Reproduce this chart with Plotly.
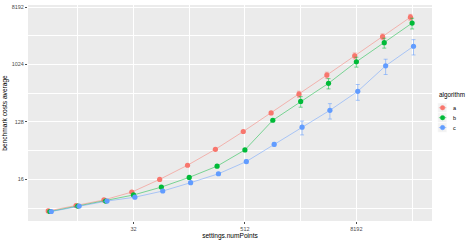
import plotly.graph_objects as go
import numpy as np

# ---- data ----
num_points = [4, 8, 16, 32, 64, 128, 256, 512, 1024, 2048, 4096, 8192, 16384, 32768]
algorithms = ["a", "b", "c"]
avg_a = [5.1, 6.2, 7.6, 10.1, 16.0, 26.7, 47.5, 90.5, 177, 350, 698, 1400, 2800, 5670]
avg_b = [5.0, 6.1, 7.3, 9.1, 12.1, 17.2, 25.8, 46.5, 136, 269, 518, 1130, 2250, 4580]
avg_c = [5.0, 6.1, 7.3, 8.4, 10.5, 14.2, 19.6, 30.5, 56.9, 106, 195, 388, 975, 1980]
sd_a = [0.1, 0.1, 0.2, 0.2, 0.3, 0.5, 1.0, 2.0, 5, 38, 75, 150, 290, 600]
sd_b = [0.1, 0.1, 0.2, 0.2, 0.3, 0.5, 1.0, 2.0, 6, 51, 95, 200, 400, 880]
sd_c = [0.1, 0.1, 0.2, 0.2, 0.3, 0.5, 1.0, 2.0, 4, 26, 53, 108, 263, 535]
x_ticks = [32, 512, 8192]
y_ticks = [16, 128, 1024, 8192]

colors = ["#F8766D", "#00BA38", "#619CFF"]
line_colors = ["rgba(248,118,109,0.55)", "rgba(0,186,56,0.55)", "rgba(97,156,255,0.55)"]
err_colors = ["rgba(248,118,109,0.6)", "rgba(0,186,56,0.6)", "rgba(97,156,255,0.6)"]
dodge = [-0.06, 0.0, 0.05]  # log2 offsets (position dodge)

fig = go.Figure()
for name, avg, sd, col, lcol, ecol, dd in zip(algorithms, [avg_a, avg_b, avg_c], [sd_a, sd_b, sd_c],
                                               colors, line_colors, err_colors, dodge):
    xs = [x * 2 ** dd for x in num_points]
    fig.add_trace(go.Scatter(
        x=xs, y=avg, mode="lines", line=dict(color=lcol, width=0.9),
        showlegend=False, hoverinfo="skip"))
    fig.add_trace(go.Scatter(
        x=xs, y=avg, mode="markers", name=name,
        marker=dict(color=col, size=5.2),
        error_y=dict(type="data", array=sd, visible=True, color=ecol, thickness=0.9, width=2),
        showlegend=False))

# manual ggplot-like legend
leg_x0 = 1.012
leg_title_y = 0.585
fig.add_annotation(xref="paper", yref="paper", x=leg_x0, y=leg_title_y, text="algorithm",
                   showarrow=False, xanchor="left", yanchor="middle",
                   font=dict(size=6.3, color="black", family="Liberation Sans, Arial, sans-serif"))
for i, (name, col, lcol) in enumerate(zip(algorithms, colors, line_colors)):
    yc = 222 - (107.7 + 10 * i)  # pixel from panel bottom
    yp = yc / 218
    x_px = 26 + 406 * leg_x0
    fig.add_shape(type="rect", xref="paper", yref="paper",
                  x0=(x_px - 26 + 1) / 406, x1=(x_px - 26 + 10) / 406,
                  y0=(yc - 4.8) / 218, y1=(yc + 4.8) / 218,
                  fillcolor="#F2F2F2", line=dict(color="white", width=0.5), layer="below")
    fig.add_shape(type="line", xref="paper", yref="paper",
                  x0=(x_px - 26 + 2) / 406, x1=(x_px - 26 + 9.5) / 406, y0=yp, y1=yp,
                  line=dict(color=lcol, width=0.9))
    fig.add_shape(type="circle", xref="paper", yref="paper",
                  x0=(x_px - 26 + 3.5) / 406, x1=(x_px - 26 + 8) / 406,
                  y0=(yc - 2.25) / 218, y1=(yc + 2.25) / 218,
                  fillcolor=col, line=dict(color=col, width=0.5))
    fig.add_annotation(xref="paper", yref="paper", x=(x_px - 26 + 14) / 406, y=yp, text=name,
                       showarrow=False, xanchor="left", yanchor="middle",
                       font=dict(size=5.5, color="black", family="Liberation Sans, Arial, sans-serif"))

font_family = "Liberation Sans, Arial, sans-serif"
xr = [np.log10(2) * 1.214, np.log10(2) * 15.714]
yr = [np.log10(2) * 1.827, np.log10(2) * 13.105]

fig.update_layout(
    width=474, height=242,
    margin=dict(l=26, r=42, t=4, b=20),
    paper_bgcolor="white", plot_bgcolor="#EBEBEB",
    font=dict(family=font_family, color="black"),
    showlegend=False,
    xaxis=dict(type="log", range=xr, tickvals=x_ticks, ticktext=[str(v) for v in x_ticks],
               showgrid=True, gridcolor="white", gridwidth=1, zeroline=False,
               ticks="outside", ticklen=2, tickcolor="#4D4D4D", tickwidth=0.6,
               tickfont=dict(size=5.5, color="#4D4D4D"),
               minor=dict(tickvals=[8, 128, 2048, 32768], showgrid=True, gridcolor="white",
                          gridwidth=0.5, ticks=""),
               title=dict(text="settings.numPoints", font=dict(size=6.6, color="black"), standoff=2),
               showline=False),
    yaxis=dict(type="log", range=yr, tickvals=y_ticks, ticktext=[str(v) for v in y_ticks],
               showgrid=True, gridcolor="white", gridwidth=1, zeroline=False,
               ticks="outside", ticklen=2, tickcolor="#4D4D4D", tickwidth=0.6,
               tickfont=dict(size=5.5, color="#4D4D4D"),
               minor=dict(tickvals=[2 ** 2.5, 2 ** 5.5, 2 ** 8.5, 2 ** 11.5], showgrid=True,
                          gridcolor="white", gridwidth=0.5, ticks=""),
               title=dict(text="benchmark costs average", font=dict(size=6.6, color="black"), standoff=3),
               showline=False),
)

fig.write_html("out.html")
